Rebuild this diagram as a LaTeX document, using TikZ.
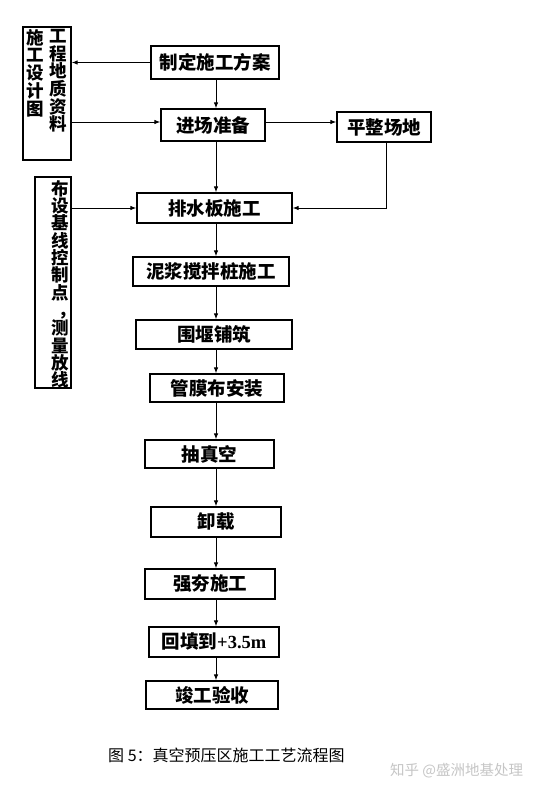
\documentclass[tikz,border=0pt]{standalone}
\usepackage{fontspec}
\setmainfont{Liberation Serif}
\newfontfamily\cjk{Noto Sans CJK SC}
\usepackage{tikz}
\usetikzlibrary{arrows.meta,positioning,calc}

\begin{document}
\begin{tikzpicture}[
      x=1pt,y=-1pt,
      box/.style={draw,line width=1.2pt,inner sep=0pt,fill=white,
                  font=\cjk\bfseries\fontsize{18.5}{18.5}\selectfont},
      vtext/.style={align=center,inner sep=0pt,anchor=north,
                  font=\cjk\bfseries\fontsize{17.5}{17.7}\selectfont},
      flow/.style={-{Latex[length=6pt,width=4.5pt]},line width=1pt},
    ]
    \useasboundingbox[fill=white] (0,0) rectangle (557,792);
    \coordinate (spine) at (216,0);

    % main chain
    \node[box,minimum width=128,minimum height=33] (plan) at (215,62.5) {制定施工方案};
    \node[box,minimum width=104,minimum height=32] (entry) at (213,125) {进场准备};
    \node[box,minimum width=94,minimum height=30] (level) at (384,127) {平整场地};
    \node[box,minimum width=155,minimum height=30] (drain) at (214.5,208) {排水板施工};
    \node[box,minimum width=156,minimum height=29] (mix) at (211,271.5) {泥浆搅拌桩施工};
    \node[box,minimum width=156,minimum height=29] (dam) at (214,334.5) {围堰铺筑};
    \node[box,minimum width=134,minimum height=28] (film) at (217,388) {管膜布安装};
    \node[box,minimum width=129,minimum height=28] (vac) at (209.5,454) {抽真空};
    \node[box,minimum width=130,minimum height=30] (unload) at (216,522) {卸载};
    \node[box,minimum width=130,minimum height=30] (tamp) at (210,584) {强夯施工};
    \node[box,minimum width=130,minimum height=30] (fill) at (214,642) {回填到{\rmfamily\bfseries +3.5m}};
    \node[box,minimum width=132,minimum height=28] (done) at (212,695) {竣工验收};

    % side boxes
    \node[box,minimum width=48,minimum height=133] (geo) at (47,93.5) {};
    \node[vtext] (geoA) at (35,29) {施\\工\\设\\计\\图};
    \node[vtext] (geoB) at (58.5,29) {工\\程\\地\\质\\资\\料};
    \node[box,minimum width=36,minimum height=211] (survey) at (53,282.5) {};
    \node[vtext,font=\cjk\bfseries\fontsize{17.5}{17.3}\selectfont] (surveyT) at (60,180)
      {布\\设\\基\\线\\控\\制\\点\\\hspace*{14pt}，\\测\\量\\放\\线};

    % connectors
    \draw[flow] (plan.west) -- (plan.west -| geo.east);
    \draw[flow] (plan.south -| spine) -- (entry.north -| spine);
    \draw[flow] ([yshift=3]geo.east |- entry.west) -- ([yshift=3]entry.west);
    \draw[flow] ([yshift=3]entry.east) -- ([yshift=3]entry.east -| level.west);
    \draw[flow] ([xshift=2]level.south) |- (drain.east);
    \draw[flow] (entry.south -| spine) -- (drain.north -| spine);
    \draw[flow] (survey.east |- drain.west) -- (drain.west);
    \draw[flow] (drain.south -| spine) -- (mix.north -| spine);
    \draw[flow] (mix.south -| spine) -- (dam.north -| spine);
    \draw[flow] (dam.south -| spine) -- (film.north -| spine);
    \draw[flow] (film.south -| spine) -- (vac.north -| spine);
    \draw[flow] (vac.south -| spine) -- (unload.north -| spine);
    \draw[flow] (unload.south -| spine) -- (tamp.north -| spine);
    \draw[flow] (tamp.south -| spine) -- (fill.north -| spine);
    \draw[flow] (fill.south -| spine) -- (done.north -| spine);

    % caption
    \node[anchor=west,inner sep=0pt,font=\cjk\fontsize{16}{16}\selectfont] (caption) at (108,755)
      {图 5：真空预压区施工工艺流程图};
    \node[anchor=west,inner sep=0pt,text=gray!45,font=\cjk\fontsize{14.5}{14.5}\selectfont] (mark) at (390,771)
      {知乎 @盛洲地基处理};
  \end{tikzpicture}
\end{document}
